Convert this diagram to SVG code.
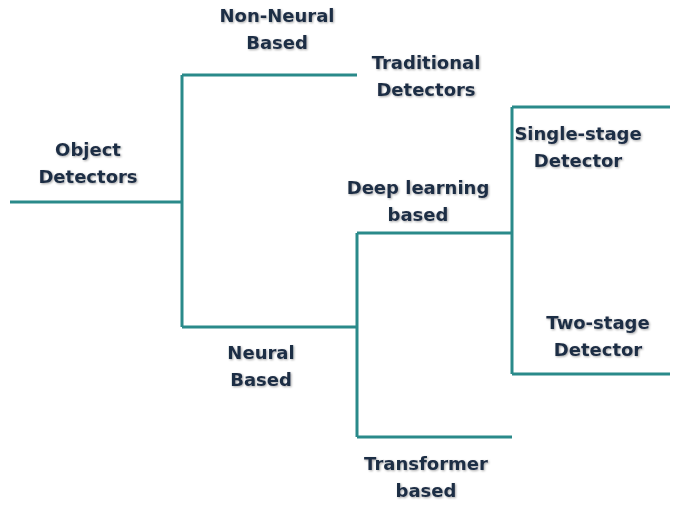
<svg xmlns="http://www.w3.org/2000/svg" width="685" height="517" viewBox="0 0 685 517">
<style>
.l{stroke:#2a8a8a;stroke-width:3;fill:none}
text{font-family:"DejaVu Sans",Verdana,sans-serif;font-weight:bold;font-size:18px;fill:#1f2d44;text-anchor:middle}
</style>
<defs><filter id="s"><feDropShadow dx="1" dy="1" stdDeviation="1" flood-color="#000" flood-opacity="0.35"/></filter></defs>
<rect width="685" height="517" fill="#fff"/>
<g id="connectors">
<path class="l" d="M10 202H182M182 75V327M182 75H357M182 327H357M357 233V437M357 233H512M357 437H512M512 107V374M512 107H670M512 374H670"/>
</g>
<g filter="url(#s)">
<g id="root"><text x="88" y="156">Object</text><text x="88" y="183">Detectors</text></g>
<g id="nonneural"><text x="277" y="22">Non-Neural</text><text x="277" y="49">Based</text></g>
<g id="traditional"><text x="426" y="69">Traditional</text><text x="426" y="96">Detectors</text></g>
<g id="deep"><text x="418" y="194">Deep learning</text><text x="418" y="221">based</text></g>
<g id="single"><text x="578" y="140">Single-stage</text><text x="578" y="167">Detector</text></g>
<g id="two"><text x="598" y="329">Two-stage</text><text x="598" y="356">Detector</text></g>
<g id="neural"><text x="261" y="359">Neural</text><text x="261" y="386">Based</text></g>
<g id="transformer"><text x="426" y="470">Transformer</text><text x="426" y="497">based</text></g>
</g>
</svg>
